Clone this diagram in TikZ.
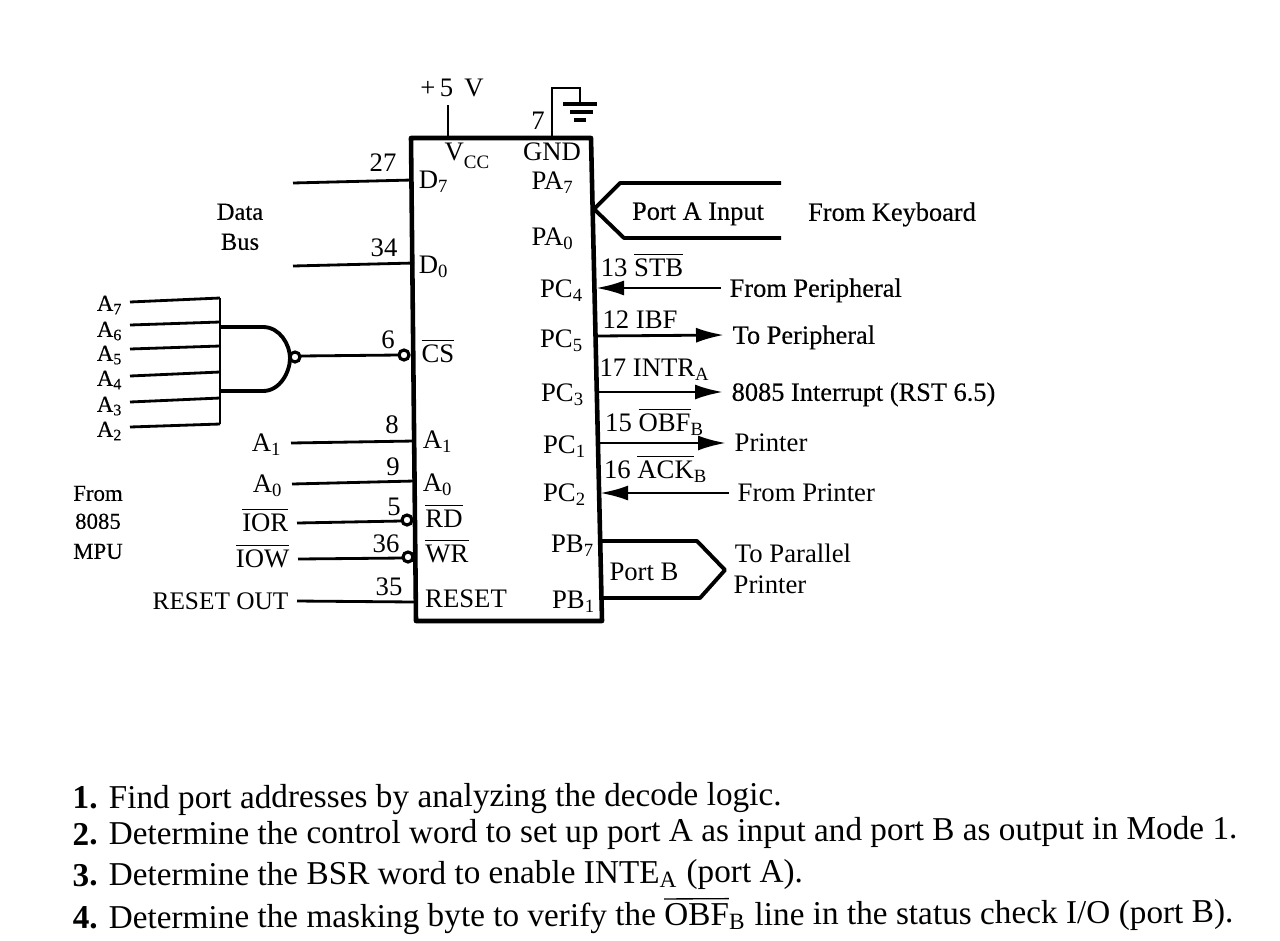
\documentclass[tikz,border=0pt]{standalone}
\usepackage{amsmath}
\usepackage{fontspec}
\setmainfont{Liberation Serif}
\newfontfamily\semifont[FakeBold=0.25]{Liberation Serif}
\usetikzlibrary{arrows.meta}
\newcommand{\low}[1]{\(_{\text{#1}}\)}
\newcommand{\actlow}[1]{\(\overline{\text{#1}}\)}
\tikzset{
    wire/.style={line width=.8pt},
    chipline/.style={line width=1.3pt,line join=round},
    bus/.style={line width=1.1pt,line join=round},
    sig/.style={wire,-{Latex[length=2.8mm,width=1.5mm]}},
    bubble/.style={line width=.9pt,fill=white},
    lab/.style={font=\fontsize{7.6}{9}\selectfont,inner sep=0pt,text height=5pt,text depth=0pt},
    heavy/.style={font=\fontsize{7.5}{9}\selectfont\semifont},
    smallheavy/.style={font=\fontsize{6.5}{8}\selectfont\semifont},
    wlab/.style={lab,anchor=west,inner sep=.08cm},
    elab/.style={lab,anchor=east,inner sep=.08cm},
    note/.style={font=\fontsize{9.47}{11}\selectfont,anchor=west,inner sep=0pt,rotate=.3},
}
\begin{document}
\begin{tikzpicture}
    \useasboundingbox (0,0) rectangle (12.8,9.4);
    % chip outline
    \draw[chipline] (4.11,8.02) coordinate (tl) -- (5.91,8.02) coordinate (tr) -- (6.02,3.19) coordinate (br) -- (4.16,3.19) coordinate (bl) -- cycle;
    % supply
    \node[lab] (vplus) at (4.52,8.52) {+\,5 \,V};
    \coordinate (vcctop) at (4.48,8.35);
    \coordinate (vccpin) at (4.48,8.02);
    \draw[wire] (vcctop) -- (vccpin);
    \node[lab] (vcc) at (4.67,7.88) {V\raisebox{-.6ex}{\fontsize{5.4}{7}\selectfont CC}};
    \node[lab] (gndpin) at (5.38,8.19) {7};
    \node[lab] (gnd) at (5.52,7.88) {GND};
    \coordinate (gndA) at (5.52,8.02);
    \coordinate (gndB) at (5.52,8.52);
    \coordinate (gndC) at (5.80,8.52);
    \coordinate (gndD) at (5.80,8.36);
    \draw[wire] (gndA) -- (gndB) -- (gndC) -- (gndD);
    \draw[line width=1.1pt] (5.63,8.36) -- (5.97,8.36);
    \draw[line width=1.1pt] (5.70,8.28) -- (5.93,8.28);
    \draw[line width=1.3pt] (5.74,8.20) -- (5.86,8.20);
    % data bus
    \coordinate (d7end) at (2.93,7.57);
    \coordinate (d7pin) at (4.12,7.60);
    \draw[wire] (d7end) -- (d7pin);
    \node[lab] (n27) at (3.83,7.77) {27};
    \node[lab] (d7) at (4.34,7.60) {D\low{7}};
    \coordinate (d0end) at (2.93,6.74);
    \coordinate (d0pin) at (4.14,6.77);
    \draw[wire] (d0end) -- (d0pin);
    \node[lab] (n34) at (3.84,6.92) {34};
    \node[lab] (d0) at (4.34,6.75) {D\low{0}};
    \node[lab,smallheavy,font=\fontsize{7}{8}\selectfont\semifont] (data) at (2.40,7.29) {Data};
    \node[lab,smallheavy,font=\fontsize{7}{8}\selectfont\semifont] (busl) at (2.40,6.99) {Bus};
    % decode logic
    \node[lab,smallheavy] (a7) at (1.10,6.38) {A\low{7}};
    \node[lab,smallheavy] (a6) at (1.10,6.12) {A\low{6}};
    \node[lab,smallheavy] (a5) at (1.10,5.88) {A\low{5}};
    \node[lab,smallheavy] (a4) at (1.10,5.63) {A\low{4}};
    \node[lab,smallheavy] (a3) at (1.10,5.37) {A\low{3}};
    \node[lab,smallheavy] (a2) at (1.10,5.12) {A\low{2}};
    \coordinate (gt) at (2.20,6.42);
    \coordinate (gb) at (2.20,5.16);
    \draw[wire] (1.30,6.38) -- (2.20,6.42);
    \draw[wire] (1.30,6.15) -- (2.20,6.18);
    \draw[wire] (1.30,5.91) -- (2.20,5.94);
    \draw[wire] (1.30,5.64) -- (2.20,5.68);
    \draw[wire] (1.30,5.38) -- (2.20,5.42);
    \draw[wire] (1.30,5.13) -- (2.20,5.16);
    \draw[wire] (gt) -- (gb);
    \draw[bus] (2.20,6.13) -- (2.63,6.13) .. controls (2.80,6.13) and (2.90,5.95) .. (2.90,5.82) .. controls (2.90,5.68) and (2.80,5.49) .. (2.63,5.49) -- (2.20,5.49);
    \draw[bubble] (2.95,5.83) circle (.05) coordinate (gateout);
    \draw[bubble] (4.04,5.85) circle (.05) coordinate (cspin);
    \draw[wire] (3.00,5.84) -- (3.99,5.85);
    \node[lab] (n6) at (3.88,6.00) {6};
    \node[lab] (cs) at (4.38,5.86) {\actlow{CS}};
    % address and control pins
    \node[elab] (la1) at (2.91,4.97) {A\low{1}};
    \coordinate (a1pin) at (4.14,4.99);
    \draw[wire] (la1.east) -- (a1pin);
    \node[lab] (n8) at (3.92,5.15) {8};
    \node[lab] (ra1) at (4.38,5.00) {A\low{1}};
    \node[elab] (la0) at (2.92,4.56) {A\low{0}};
    \coordinate (a0pin) at (4.14,4.59);
    \draw[wire] (la0.east) -- (a0pin);
    \node[lab] (n9) at (3.93,4.73) {9};
    \node[lab] (ra0) at (4.38,4.57) {A\low{0}};
    \node[elab] (lior) at (2.97,4.17) {\actlow{IOR}};
    \coordinate (rdwire) at (4.01,4.19);
    \draw[wire] (lior.east) -- (rdwire);
    \draw[bubble] (4.07,4.20) circle (.05) coordinate (rdpin);
    \node[lab] (n5) at (3.94,4.33) {5};
    \node[lab] (rd) at (4.44,4.21) {\actlow{RD}};
    \node[elab] (liow) at (2.98,3.81) {\actlow{IOW}};
    \coordinate (wrwire) at (4.03,3.82);
    \draw[wire] (liow.east) -- (wrwire);
    \draw[bubble] (4.08,3.83) circle (.05) coordinate (wrpin);
    \node[lab] (n36) at (3.86,3.96) {36};
    \node[lab] (wr) at (4.47,3.86) {\actlow{WR}};
    \node[elab,font=\fontsize{7.2}{9}\selectfont] (lreset) at (2.97,3.39) {RESET OUT};
    \coordinate (resetpin) at (4.15,3.38);
    \draw[wire] (lreset.east) -- (resetpin);
    \node[lab] (n35) at (3.89,3.53) {35};
    \node[lab] (reset) at (4.66,3.41) {RESET};
    \node[lab,smallheavy] (from) at (.98,4.48) {From};
    \node[lab,smallheavy] (mpu8085) at (.98,4.20) {8085};
    \node[lab,smallheavy] (mpu) at (.98,3.90) {MPU};
    % right side names
    \node[lab] (pa7) at (5.53,7.59) {PA\low{7}};
    \node[lab] (pa0) at (5.53,7.03) {PA\low{0}};
    \node[lab] (pc4) at (5.62,6.51) {PC\low{4}};
    \node[lab] (pc5) at (5.62,6.01) {PC\low{5}};
    \node[lab] (pc3) at (5.63,5.47) {PC\low{3}};
    \node[lab] (pc1) at (5.65,4.95) {PC\low{1}};
    \node[lab] (pc2) at (5.65,4.47) {PC\low{2}};
    \node[lab] (pb7) at (5.73,3.96) {PB\low{7}};
    \node[lab] (pb1) at (5.74,3.40) {PB\low{1}};
    % port A
    \coordinate (pAtip) at (5.94,7.31);
    \draw[bus] (7.81,7.57) -- (6.20,7.57) -- (pAtip) -- (6.24,7.02) -- (7.81,7.02);
    \node[lab,heavy] (portA) at (6.98,7.29) {Port A Input};
    \node[lab,heavy] (keyb) at (8.92,7.28) {From Keyboard};
    % handshake signals
    \node[lab] (stb) at (6.42,6.72) {13 \actlow{STB}};
    \node[wlab,heavy] (fromper) at (7.21,6.52) {From Peripheral};
    \coordinate (stbpin) at (5.96,6.52);
    \draw[sig] (fromper.west) -- (stbpin);
    \node[lab] (ibf) at (6.40,6.20) {12 IBF};
    \node[wlab,heavy] (toper) at (7.24,6.05) {To Peripheral};
    \coordinate (ibfpin) at (5.97,6.04);
    \draw[sig] (ibfpin) -- (toper.west);
    \node[lab] (intr) at (6.55,5.72) {17 INTR\low{A}};
    \node[wlab,heavy] (rst) at (7.23,5.48) {8085 Interrupt (RST 6.5)};
    \coordinate (intrpin) at (5.98,5.48);
    \draw[sig] (intrpin) -- (rst.west);
    \node[lab] (obf) at (6.55,5.17) {15 \actlow{OBF}\low{B}};
    \node[wlab] (printer) at (7.26,4.97) {Printer};
    \coordinate (obfpin) at (5.99,4.97);
    \draw[sig] (obfpin) -- (printer.west);
    \node[lab] (ack) at (6.56,4.70) {16 \actlow{ACK}\low{B}};
    \node[wlab] (fromprn) at (7.29,4.47) {From Printer};
    \coordinate (ackpin) at (6.00,4.47);
    \draw[sig] (fromprn.west) -- (ackpin);
    % port B
    \draw[bus] (6.02,3.99) -- (6.97,3.99) -- (7.25,3.70) -- (7.00,3.42) -- (6.03,3.42);
    \node[lab] (portB) at (6.44,3.68) {Port B};
    \node[lab] (topar) at (7.93,3.86) {To Parallel};
    \node[lab] (parprn) at (7.70,3.55) {Printer};
    % questions
    \node[note] (q1) at (.72,1.39) {\textbf{1.} Find port addresses by analyzing the decode logic.};
    \node[note] (q2) at (.72,1.03) {\textbf{2.} Determine the control word to set up port A as input and port B as output in Mode 1.};
    \node[note] (q3) at (.72,.62) {\textbf{3.} Determine the BSR word to enable INTE\low{A} (port A).};
    \node[note] (q4) at (.72,.22) {\textbf{4.} Determine the masking byte to verify the \actlow{OBF}\low{B} line in the status check I/O (port B).};
\end{tikzpicture}
\end{document}
